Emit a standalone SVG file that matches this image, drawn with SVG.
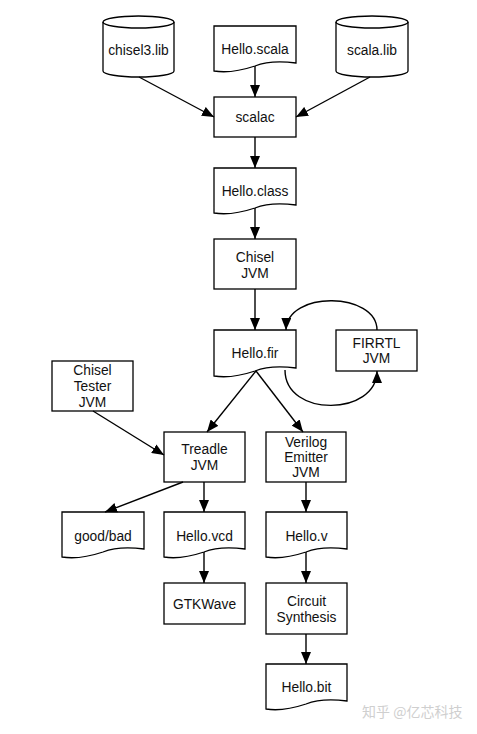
<svg xmlns="http://www.w3.org/2000/svg" width="477" height="734" viewBox="0 0 477 734">
<defs>
<style>
.s{fill:#fff;stroke:#000;stroke-width:1.3}
.t{font-family:"Liberation Sans",Arial,sans-serif;font-size:13.8px;fill:#111;text-anchor:middle;dominant-baseline:central}
.c{fill:none;stroke:#000;stroke-width:1.4}
.w{font-family:"Noto Sans CJK SC","Liberation Sans",sans-serif;font-size:14px;fill:#cfcfcf;dominant-baseline:central}
</style>
<marker id="a" viewBox="0 0 12 10" refX="12" refY="5" markerWidth="12" markerHeight="10" markerUnits="userSpaceOnUse" orient="auto">
<path d="M0,0 L12,5 L0,10 Z" fill="#000"/>
</marker>
</defs>
<rect width="477" height="734" fill="#fff"/>

<g id="chisel3lib">
<path class="s" d="M103,22 A35.5,6 0 0 1 174,22 V71 A35.5,6 0 0 1 103,71 Z"/>
<path class="c" d="M103,22 A35.5,6 0 0 0 174,22"/>
<text class="t" x="138.5" y="50">chisel3.lib</text>
</g>
<g id="helloscala">
<path class="s" d="M214,26 H296 V63 C281,61 265,62 255,66 C240,71 226,73 214,71 Z"/>
<text class="t" x="255" y="49">Hello.scala</text>
</g>
<g id="scalalib">
<path class="s" d="M336,22 A36,6 0 0 1 408,22 V71 A36,6 0 0 1 336,71 Z"/>
<path class="c" d="M336,22 A36,6 0 0 0 408,22"/>
<text class="t" x="372" y="50">scala.lib</text>
</g>
<g id="scalac">
<rect class="s" x="214" y="97" width="82" height="40"/>
<text class="t" x="255" y="117">scalac</text>
</g>
<g id="helloclass">
<path class="s" d="M214,168 H296 V205 C281,203 265,204 255,208 C240,213 226,215 214,213 Z"/>
<text class="t" x="255" y="191">Hello.class</text>
</g>
<g id="chiseljvm">
<rect class="s" x="214" y="239" width="82" height="50"/>
<text class="t" x="255" y="257">Chisel</text>
<text class="t" x="255" y="273">JVM</text>
</g>
<g id="hellofir">
<path class="s" d="M214,330 H296 V368 C281,366 265,367 255,371 C240,376 226,378 214,376 Z"/>
<text class="t" x="255" y="353">Hello.fir</text>
</g>
<g id="firrtljvm">
<rect class="s" x="336" y="330" width="81" height="41"/>
<text class="t" x="376.5" y="343">FIRRTL</text>
<text class="t" x="376.5" y="358">JVM</text>
</g>
<g id="chiseltester">
<rect class="s" x="52" y="361" width="81" height="50"/>
<text class="t" x="92.5" y="370">Chisel</text>
<text class="t" x="92.5" y="386">Tester</text>
<text class="t" x="92.5" y="402">JVM</text>
</g>
<g id="treadle">
<rect class="s" x="164" y="432" width="81" height="50"/>
<text class="t" x="204.5" y="449">Treadle</text>
<text class="t" x="204.5" y="465">JVM</text>
</g>
<g id="verilog">
<rect class="s" x="266" y="432" width="80" height="50"/>
<text class="t" x="306" y="442">Verilog</text>
<text class="t" x="306" y="457">Emitter</text>
<text class="t" x="306" y="472">JVM</text>
</g>
<g id="goodbad">
<path class="s" d="M62,512 H144 V549 C129,547 113,548 103,552 C88,557 74,559 62,557 Z"/>
<text class="t" x="103" y="536">good/bad</text>
</g>
<g id="hellovcd">
<path class="s" d="M164,512 H245 V549 C230,547 214,548 204,552 C189,557 176,559 164,557 Z"/>
<text class="t" x="204.5" y="536">Hello.vcd</text>
</g>
<g id="hellov">
<path class="s" d="M266,512 H347 V549 C332,547 316,548 306,552 C291,557 278,559 266,557 Z"/>
<text class="t" x="306.5" y="536">Hello.v</text>
</g>
<g id="gtkwave">
<rect class="s" x="164" y="583" width="81" height="41"/>
<text class="t" x="204.5" y="604">GTKWave</text>
</g>
<g id="synthesis">
<rect class="s" x="266" y="583" width="81" height="51"/>
<text class="t" x="306.5" y="601">Circuit</text>
<text class="t" x="306.5" y="617">Synthesis</text>
</g>
<g id="hellobit">
<path class="s" d="M266,664 H347 V701 C332,699 316,700 306,704 C291,709 278,711 266,709 Z"/>
<text class="t" x="306.5" y="687">Hello.bit</text>
</g>

<g id="connectors">
<path class="c" d="M139,77 L214,117" marker-end="url(#a)"/>
<path class="c" d="M255,66 V97" marker-end="url(#a)"/>
<path class="c" d="M370,77 L296,117" marker-end="url(#a)"/>
<path class="c" d="M255,137 V168" marker-end="url(#a)"/>
<path class="c" d="M255,208 V239" marker-end="url(#a)"/>
<path class="c" d="M255,289 V330" marker-end="url(#a)"/>
<path class="c" d="M377,330 C377,292 287,290 286,330" marker-end="url(#a)"/>
<path class="c" d="M285,370 C285,418 377,416 377,371" marker-end="url(#a)"/>
<path class="c" d="M256,371 L207,432" marker-end="url(#a)"/>
<path class="c" d="M256,371 L303,432" marker-end="url(#a)"/>
<path class="c" d="M93,411 L164,455" marker-end="url(#a)"/>
<path class="c" d="M183,482 L105,512" marker-end="url(#a)"/>
<path class="c" d="M204,482 V512" marker-end="url(#a)"/>
<path class="c" d="M306,482 V512" marker-end="url(#a)"/>
<path class="c" d="M204,552 V583" marker-end="url(#a)"/>
<path class="c" d="M306,552 V583" marker-end="url(#a)"/>
<path class="c" d="M306,634 V664" marker-end="url(#a)"/>
</g>
<text class="w" x="362" y="711">知乎 @亿芯科技</text>
</svg>
